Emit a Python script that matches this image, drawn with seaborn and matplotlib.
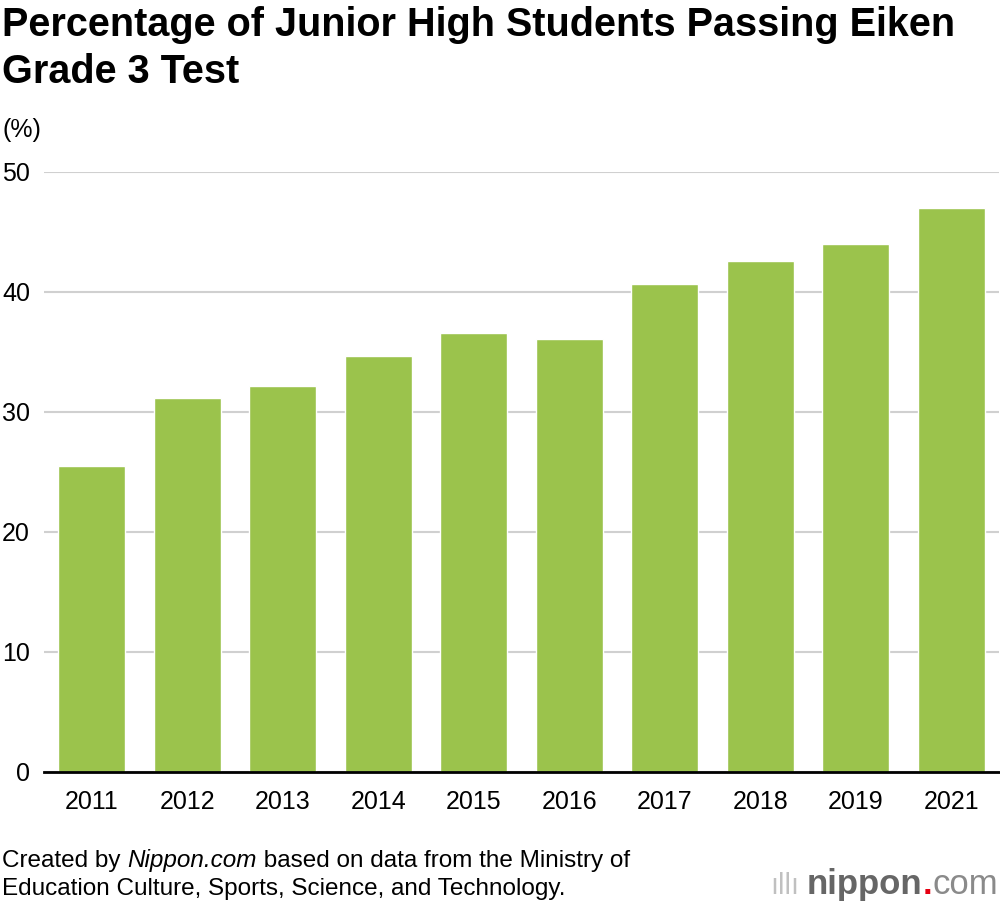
import matplotlib
matplotlib.use("Agg")
import matplotlib.pyplot as plt
import seaborn as sns
import pandas as pd

# data
years = ["2011", "2012", "2013", "2014", "2015", "2016", "2017", "2018", "2019", "2021"]
passing_pct = [25.5, 31.2, 32.2, 34.7, 36.6, 36.1, 40.7, 42.6, 44.0, 47.0]
y_ticks = [0, 10, 20, 30, 40, 50]

df = pd.DataFrame({"year": years, "pct": passing_pct})

sns.set_theme(style="white")
plt.rcParams["font.family"] = ["Liberation Sans", "DejaVu Sans"]
plt.rcParams["text.color"] = "black"

fig = plt.figure(figsize=(10, 9.08), dpi=100)
ax = fig.add_axes([0.044, 0.1498, 0.955, 0.6608])

sns.barplot(data=df, x="year", y="pct", color="#9bc34c", saturation=1, width=0.7, ax=ax)

ax.set_ylim(0, 50)
ax.set_yticks(y_ticks)
ax.set_xlim(-0.5, len(years) - 0.5)
ax.yaxis.grid(True, color="#d0d0d0", linewidth=1.5)
ax.set_axisbelow(True)
for s in ["top", "right", "left"]:
    ax.spines[s].set_visible(False)
ax.spines["bottom"].set_color("black")
ax.spines["bottom"].set_linewidth(2)
ax.tick_params(axis="both", length=0, labelsize=18, colors="black")
ax.tick_params(axis="y", pad=10)
ax.tick_params(axis="x", pad=13)
ax.set_xlabel("")
ax.set_ylabel("")

fig.text(0.002, 0.993, "Percentage of Junior High Students Passing Eiken\nGrade 3 Test",
         fontsize=28.5, fontweight="bold", va="top", ha="left", linespacing=1.3)
fig.text(0.002, 0.857, "(%)", fontsize=18, va="center", ha="left")

fig.canvas.draw()
r = fig.canvas.get_renderer()


def chain(x, y, parts):
    # place text pieces one after another on a line
    for s, kw in parts:
        t = fig.text(x, y, s, va="baseline", ha="left", **kw)
        bb = t.get_window_extent(renderer=r)
        x = bb.x1 / fig.bbox.width
    return x


foot = dict(fontsize=17.5)
chain(0.002, 1 - 867 / 908, [("Created by ", foot),
                             ("Nippon.com", dict(fontsize=17.5, style="italic")),
                             (" based on data from the Ministry of", foot)])
fig.text(0.002, 1 - 895 / 908, "Education Culture, Sports, Science, and Technology.",
         va="baseline", ha="left", **foot)

# logo
logo_y = 1 - 894 / 908
x = chain(0.77, logo_y, [("ıllı", dict(fontsize=21, color="#c0c0c0"))])
chain(x + 0.008, logo_y, [("nippon", dict(fontsize=25, fontweight="bold", color="#666666")),
                          (".", dict(fontsize=25, fontweight="bold", color="#e60012")),
                          ("com", dict(fontsize=25, color="#8a8a8a"))])

fig.savefig("out.png", dpi=100)
